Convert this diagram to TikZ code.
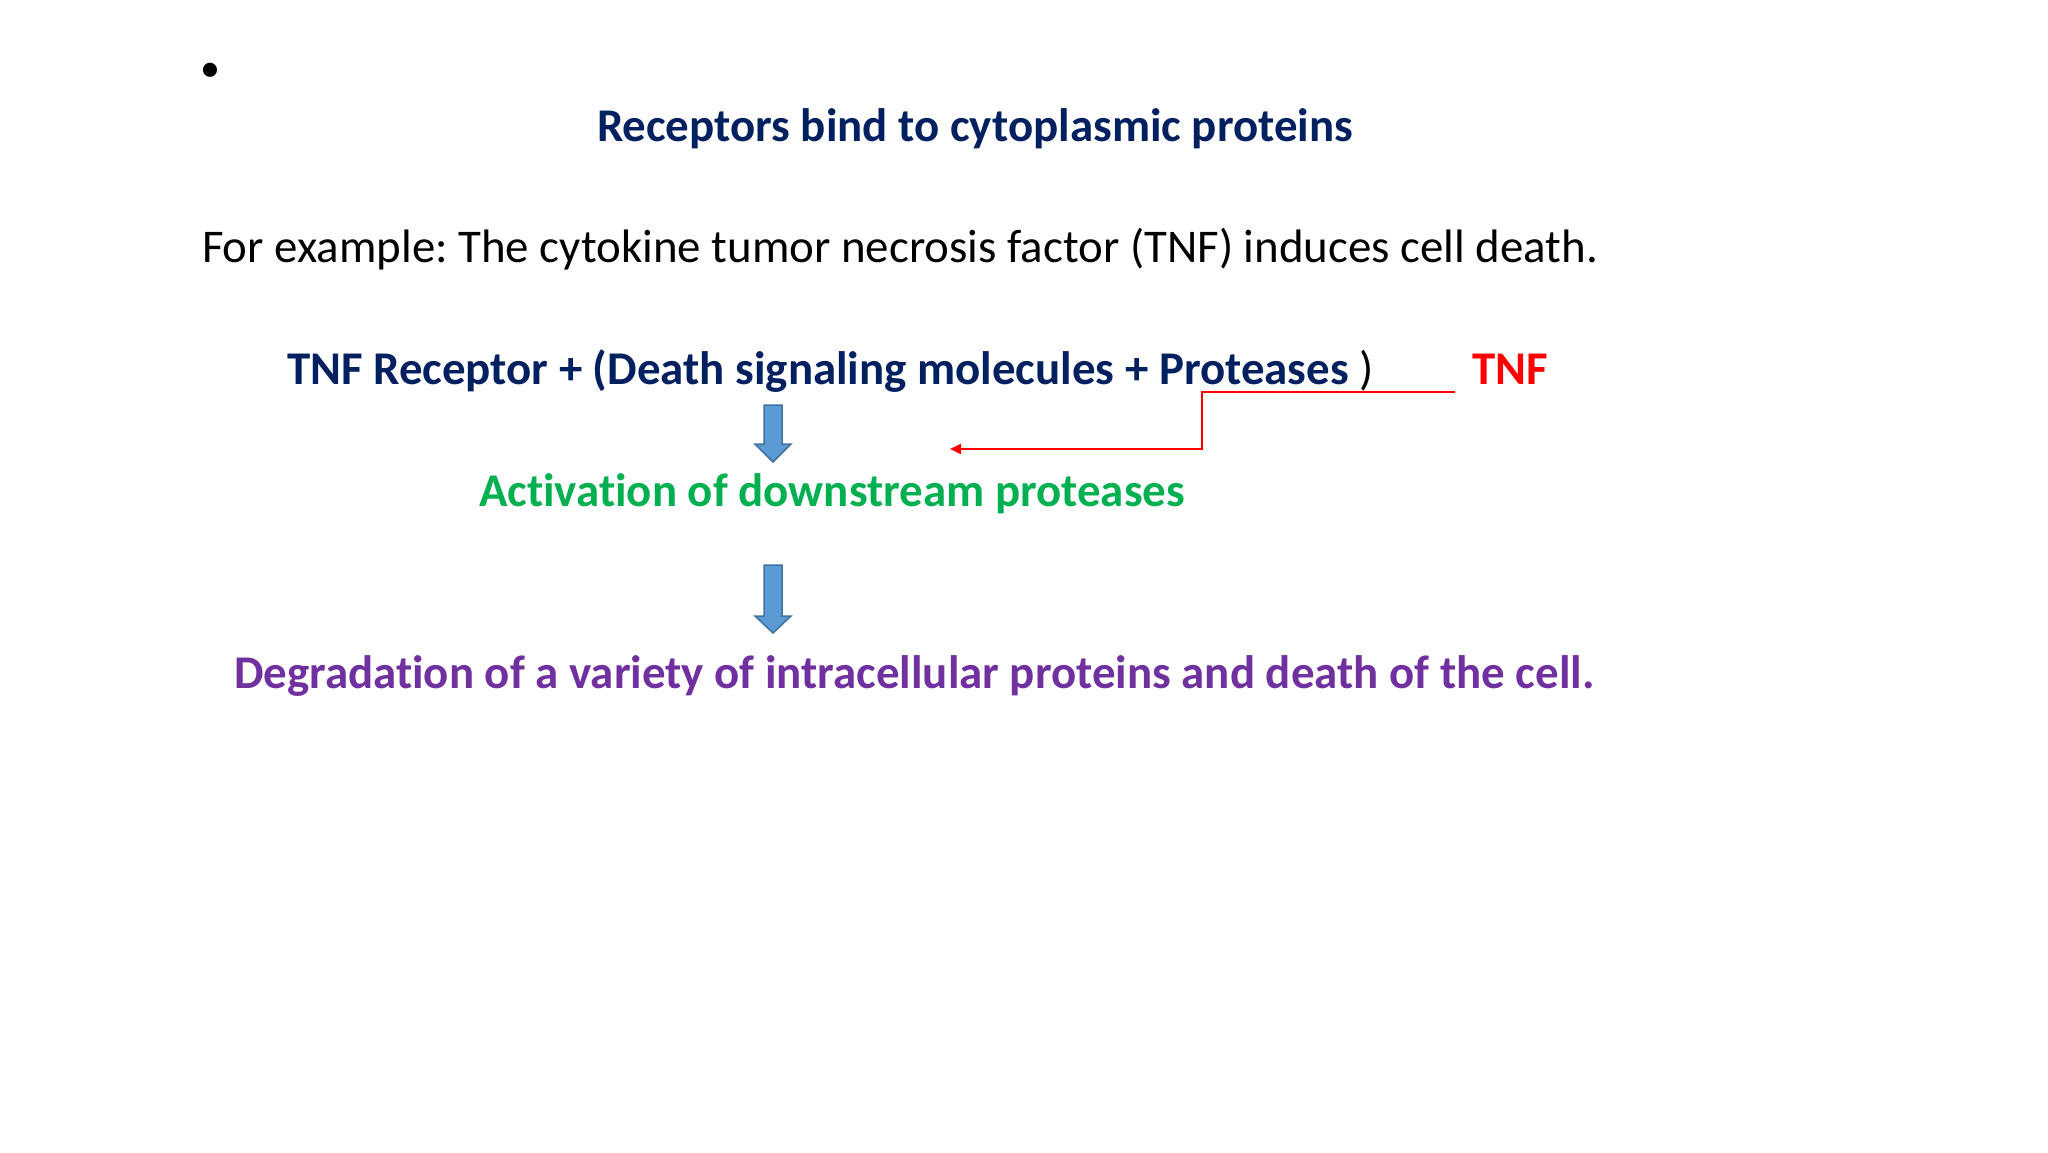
\documentclass[tikz,border=0pt]{standalone}
\usepackage{fontspec}
\setmainfont[Ligatures=NoCommon]{Carlito}
\usetikzlibrary{arrows.meta}
\definecolor{navy}{HTML}{002060}
\definecolor{pgreen}{HTML}{00B050}
\definecolor{ppurple}{HTML}{7030A0}
\definecolor{pred}{HTML}{FF0000}
\definecolor{afill}{HTML}{5B9BD5}
\definecolor{aline}{HTML}{41719C}
\frenchspacing
\tikzset{
  txt/.style={anchor=base west, inner sep=0pt, outer sep=0pt, font=\fontsize{46.9}{56}\selectfont},
  btxt/.style={txt, font=\fontsize{46.9}{56}\selectfont\bfseries},
  blockarrow/.style={fill=afill, draw=aline, line width=1.5pt, line join=miter},
  redline/.style={draw=pred, line width=2pt, -{Triangle[length=11pt,width=10pt]}}
}
\begin{document}
\begin{tikzpicture}[x=1pt,y=-1pt]
\useasboundingbox (0,0) rectangle (2048,1152);
\fill[white] (0,0) rectangle (2048,1152);
\node[txt, font=\fontsize{40}{48}\selectfont] (bullet) at (200,81) {•};
\node[btxt, text=navy] (title) at (597,141) {Receptors bind to cytoplasmic proteins};
\node[txt] (example) at (202,262) {For example: The cytokine tumor necrosis factor (TNF) induces cell death.};
\node[btxt] (receptor) at (287,384) {{\color{navy}TNF Receptor + (Death signaling molecules + Proteases }{\color{black}\mdseries)}};
\node[btxt, text=pred] (tnf) at (1472,384) {TNF};
\node[btxt, text=pgreen] (activation) at (479,506) {Activation of downstream proteases};
\node[btxt, text=ppurple] (degradation) at (234,688) {Degradation of a variety of intracellular proteins and death of the cell.};
% block arrows
\path[blockarrow] (764,405) -- (782,405) -- (782,444) -- (791,444) -- (773,462) -- (755,444) -- (764,444) -- cycle;
\path[blockarrow] (764,565) -- (782,565) -- (782,616) -- (791,616) -- (773,633) -- (755,616) -- (764,616) -- cycle;
% red connector
\coordinate (tnfin) at (1455,392);
\coordinate (target) at (950,449);
\draw[redline] (tnfin) -- (1202,392) -- (1202,449) -- (target);
\end{tikzpicture}
\end{document}
